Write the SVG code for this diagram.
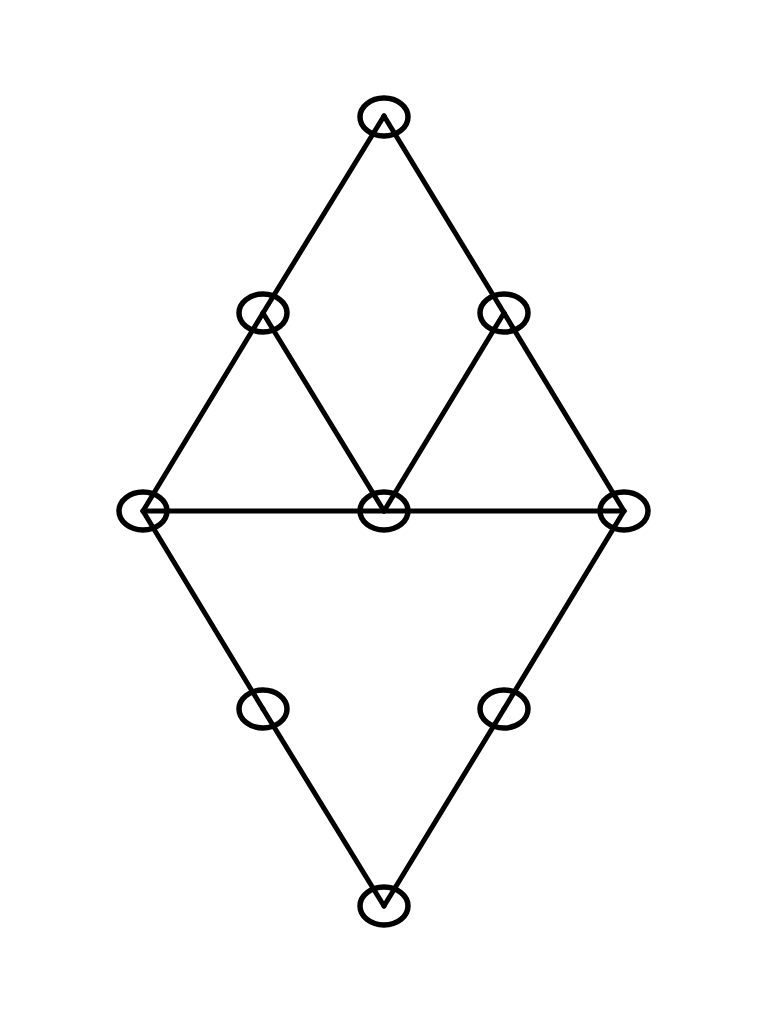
<svg xmlns="http://www.w3.org/2000/svg" width="768" height="1024" viewBox="0 0 768 1024">
<style>
.e{stroke:#000;stroke-width:5;fill:none;stroke-linecap:round;stroke-linejoin:miter}
.n{fill:none;stroke:#000;stroke-width:5.5}
</style>
<rect width="768" height="1024" fill="#fff"/>
<g id="connectors">
<line class="e" x1="384" y1="116" x2="263" y2="313"/>
<line class="e" x1="263" y1="313" x2="143" y2="511"/>
<line class="e" x1="384" y1="116" x2="504" y2="313"/>
<line class="e" x1="504" y1="313" x2="624" y2="511"/>
<line class="e" x1="263" y1="313" x2="384" y2="511"/>
<line class="e" x1="504" y1="313" x2="384" y2="511"/>
<line class="e" x1="143" y1="511" x2="384" y2="511"/>
<line class="e" x1="384" y1="511" x2="624" y2="511"/>
<line class="e" x1="143" y1="511" x2="263" y2="709"/>
<line class="e" x1="263" y1="709" x2="384" y2="906"/>
<line class="e" x1="624" y1="511" x2="504" y2="709"/>
<line class="e" x1="504" y1="709" x2="384" y2="906"/>
</g>
<g id="n1"><ellipse class="n" cx="384" cy="117" rx="24" ry="19"/></g>
<g id="n2"><ellipse class="n" cx="263" cy="313" rx="24" ry="19"/></g>
<g id="n3"><ellipse class="n" cx="504" cy="313" rx="24" ry="19"/></g>
<g id="n4"><ellipse class="n" cx="143" cy="511" rx="24" ry="19"/></g>
<g id="n5"><ellipse class="n" cx="384" cy="511" rx="24" ry="19"/></g>
<g id="n6"><ellipse class="n" cx="624" cy="511" rx="24" ry="19"/></g>
<g id="n7"><ellipse class="n" cx="263" cy="709" rx="24" ry="19"/></g>
<g id="n8"><ellipse class="n" cx="504" cy="709" rx="24" ry="19"/></g>
<g id="n9"><ellipse class="n" cx="384" cy="906" rx="24" ry="19"/></g>
</svg>
